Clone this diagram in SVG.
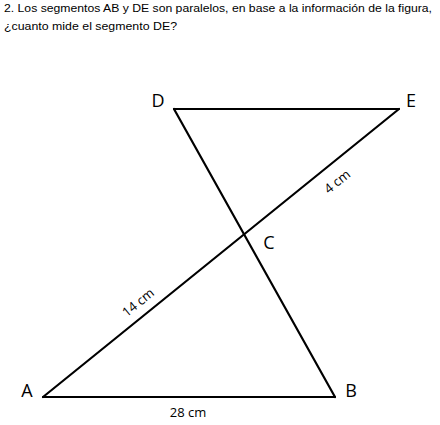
<svg xmlns="http://www.w3.org/2000/svg" width="440" height="425" viewBox="0 0 440 425">
<style>
.t{font-family:"Liberation Sans",Arial,sans-serif;font-size:10.5px;fill:#000}
.l{font-family:"Open Sans","Liberation Sans",sans-serif;font-size:18px;fill:#000}
.m{font-family:"Open Sans","Liberation Sans",sans-serif;font-size:13px;fill:#000}
.s{stroke:#000;stroke-width:2.2;fill:none;stroke-linecap:round}
</style>
<rect width="440" height="425" fill="#fff"/>
<text class="t" x="4" y="12" textLength="428" lengthAdjust="spacingAndGlyphs">2. Los segmentos AB y DE son paralelos, en base a la información de la figura,</text>
<text class="t" x="4" y="30" textLength="173" lengthAdjust="spacingAndGlyphs">¿cuanto mide el segmento DE?</text>
<g id="connectors">
<line class="s" x1="43" y1="397" x2="335" y2="397"/>
<line class="s" x1="43" y1="397" x2="399" y2="109"/>
<line class="s" x1="174" y1="109" x2="399" y2="109"/>
<line class="s" x1="174" y1="109" x2="335" y2="397"/>
</g>
<g id="D"><text class="l" x="158" y="107" text-anchor="middle">D</text></g>
<g id="E"><text class="l" x="411" y="107" text-anchor="middle">E</text></g>
<g id="C"><text class="l" x="269" y="249" text-anchor="middle">C</text></g>
<g id="A"><text class="l" x="27" y="397" text-anchor="middle">A</text></g>
<g id="B"><text class="l" x="351" y="397" text-anchor="middle">B</text></g>
<text class="m" x="188" y="417" text-anchor="middle">28 cm</text>
<text class="m" transform="translate(141,306) rotate(-39)" text-anchor="middle">14 cm</text>
<text class="m" transform="translate(340,185) rotate(-39)" text-anchor="middle">4 cm</text>
</svg>
